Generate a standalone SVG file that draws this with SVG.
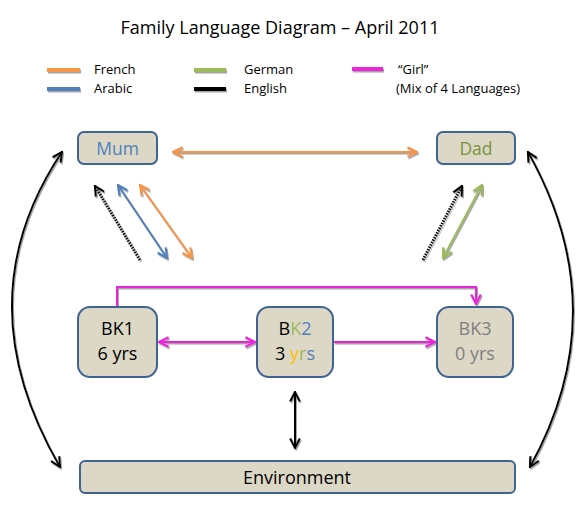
<svg xmlns="http://www.w3.org/2000/svg" width="583" height="506" viewBox="0 0 583 506">
<style>
  text { font-family: "Open Sans", "Noto Sans", "Liberation Sans", sans-serif; }
  .title { font-size: 18px; fill: #000; }
  .leg { font-size: 13px; fill: #000; }
  .box { fill: #ddd8c6; stroke: #3f6395; stroke-width: 2; }
  .lbl { font-size: 17.5px; text-anchor: middle; }
  .big { font-size: 18px; text-anchor: middle; }
  .c { fill: none; stroke-width: 2; }
  .dot { fill: none; stroke: #000; stroke-width: 3; stroke-dasharray: 1.5,1.2; }
  .legl { stroke-width: 4; }
</style>
<defs>
  <filter id="sh" x="-20%" y="-20%" width="140%" height="140%">
    <feDropShadow dx="1" dy="1.5" stdDeviation="0.4" flood-color="#999999" flood-opacity="0.9"/>
  </filter>
  <marker id="aO" viewBox="0 0 10 10" refX="9" refY="5" markerWidth="6" markerHeight="6" orient="auto-start-reverse" markerUnits="strokeWidth"><path d="M1,1 L9,5 L1,9" fill="none" stroke="#f79646" stroke-width="1.8"/></marker>
  <marker id="aB" viewBox="0 0 10 10" refX="9" refY="5" markerWidth="6" markerHeight="6" orient="auto-start-reverse" markerUnits="strokeWidth"><path d="M1,1 L9,5 L1,9" fill="none" stroke="#4f81bd" stroke-width="1.8"/></marker>
  <marker id="aG" viewBox="0 0 10 10" refX="9" refY="5" markerWidth="6" markerHeight="6" orient="auto-start-reverse" markerUnits="strokeWidth"><path d="M1,1 L9,5 L1,9" fill="none" stroke="#9bbb59" stroke-width="1.8"/></marker>
  <marker id="aK" viewBox="0 0 10 10" refX="9" refY="5" markerWidth="6" markerHeight="6" orient="auto-start-reverse" markerUnits="strokeWidth"><path d="M1,1 L9,5 L1,9" fill="none" stroke="#000" stroke-width="1.8"/></marker>
  <marker id="aKd" viewBox="0 0 10 10" refX="9" refY="5" markerWidth="4" markerHeight="4" orient="auto-start-reverse" markerUnits="strokeWidth"><path d="M1,1 L9,5 L1,9" fill="none" stroke="#000" stroke-width="1.8"/></marker>
  <marker id="aP" viewBox="0 0 10 10" refX="9" refY="5" markerWidth="6" markerHeight="6" orient="auto-start-reverse" markerUnits="strokeWidth"><path d="M1,1 L9,5 L1,9" fill="none" stroke="#ee22dd" stroke-width="1.8"/></marker>
</defs>
<rect width="583" height="506" fill="#fff"/>
<text class="title" x="280" y="34" text-anchor="middle">Family Language Diagram – April 2011</text>
<g id="legend">
  <g filter="url(#sh)">
    <line class="legl" x1="47" y1="70" x2="80" y2="70" stroke="#f79646"/>
    <line class="legl" x1="47" y1="89" x2="80" y2="89" stroke="#4f81bd"/>
    <line class="legl" x1="194" y1="70" x2="226" y2="70" stroke="#9bbb59"/>
    <line class="legl" x1="194" y1="89" x2="226" y2="89" stroke="#000"/>
    <line class="legl" x1="352" y1="69" x2="383" y2="69" stroke="#ee22dd"/>
  </g>
  <text class="leg" x="94" y="74">French</text>
  <text class="leg" x="94" y="93">Arabic</text>
  <text class="leg" x="244" y="74">German</text>
  <text class="leg" x="244" y="93">English</text>
  <text class="leg" x="398" y="74">“Girl”</text>
  <text class="leg" x="396" y="93">(Mix of 4 Languages)</text>
</g>
<g id="connectors" filter="url(#sh)">
  <path class="c" d="M173,152 L417,152" stroke="#f79646" marker-start="url(#aO)" marker-end="url(#aO)"/>
  <path class="dot" d="M140,260 L95,186" marker-end="url(#aKd)"/>
  <path class="c" d="M118,185 L167,258" stroke="#4f81bd" marker-start="url(#aB)" marker-end="url(#aB)"/>
  <path class="c" d="M140,185 L192,258" stroke="#f79646" marker-start="url(#aO)" marker-end="url(#aO)"/>
  <path class="dot" d="M423,260 L462,186" marker-end="url(#aKd)"/>
  <path class="c" d="M482,185 L443,258" stroke="#9bbb59" marker-start="url(#aG)" marker-end="url(#aG)"/>
  <path class="c" d="M62,152 Q-37,300 60,467" stroke="#000" marker-start="url(#aK)" marker-end="url(#aK)"/>
  <path class="c" d="M528,152 Q617,310 530,467" stroke="#000" marker-start="url(#aK)" marker-end="url(#aK)"/>
  <path class="c" d="M117,306 L117,287 L476,287 L476,304" stroke="#ee22dd" marker-end="url(#aP)"/>
  <path class="c" d="M159,342 L255,342" stroke="#ee22dd" marker-start="url(#aP)" marker-end="url(#aP)"/>
  <path class="c" d="M334,342 L435,342" stroke="#ee22dd" marker-end="url(#aP)"/>
  <path class="c" d="M295,392 L295,448" stroke="#000" marker-start="url(#aK)" marker-end="url(#aK)"/>
</g>
<g id="mum">
  <rect class="box" x="78" y="132" width="79" height="32" rx="6"/>
  <text class="lbl" x="117.5" y="155" fill="#4f81bd">Mum</text>
</g>
<g id="dad">
  <rect class="box" x="437" y="132" width="78" height="32" rx="6"/>
  <text class="lbl" x="476" y="155" fill="#77933c">Dad</text>
</g>
<g id="bk1">
  <rect class="box" x="78" y="307" width="79" height="70" rx="12"/>
  <text class="big" x="117.5" y="335" fill="#000">BK1</text>
  <text class="big" x="117.5" y="360" fill="#000">6 yrs</text>
</g>
<g id="bk2">
  <rect class="box" x="257" y="307" width="76" height="70" rx="12"/>
  <text class="big" x="295" y="335" fill="#000">B<tspan fill="#9bbb59">K</tspan><tspan fill="#4f81bd">2</tspan></text>
  <text class="big" x="295" y="360" fill="#000">3 <tspan fill="#ffc000">y</tspan><tspan fill="#9bbb59">r</tspan><tspan fill="#4f81bd">s</tspan></text>
</g>
<g id="bk3">
  <rect class="box" x="437" y="307" width="76" height="70" rx="12"/>
  <text class="big" x="475" y="335" fill="#7f7f7f">BK3</text>
  <text class="big" x="475" y="360" fill="#7f7f7f">0 yrs</text>
</g>
<g id="environment">
  <rect class="box" x="80" y="461" width="435" height="32" rx="5"/>
  <text class="big" x="297" y="484" fill="#000">Environment</text>
</g>
</svg>
